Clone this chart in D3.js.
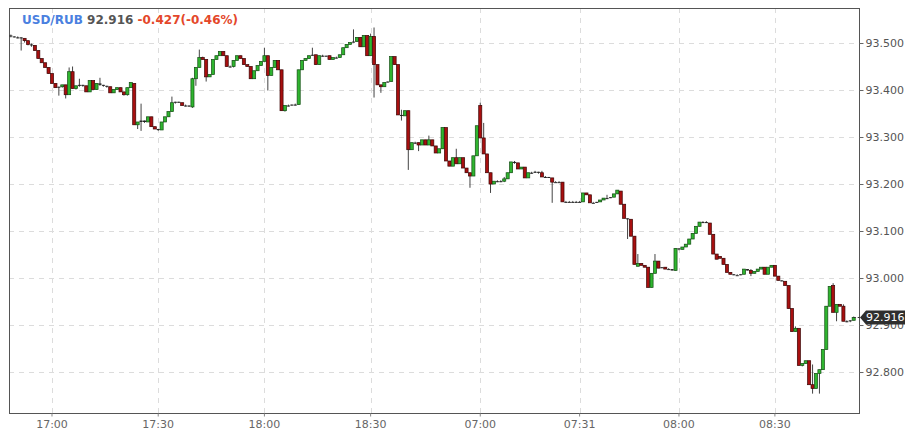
<!DOCTYPE html>
<html><head><meta charset="utf-8">
<script src="https://cdn.jsdelivr.net/npm/d3@7"></script>
<style>html,body{margin:0;padding:0;background:#fff;}svg{display:block;}</style>
</head><body><svg id="c" width="913" height="435"></svg>
<script>
// ---- data ----
const symbol = "USD/RUB";
const lastPrice = 92.916;
const change = "-0.427(-0.46%)";
const yTicks = [92.8, 92.9, 93.0, 93.1, 93.2, 93.3, 93.4, 93.5];
const timeLabels = ["17:00","17:30","18:00","18:30","07:00","07:31","08:00","08:30"];
const timeLabelIndex = [12, 43, 74, 105, 137, 166, 195, 223];
// [open, high, low, close] per one-minute candle
const candles = [
[93.516,93.518,93.512,93.514],[93.514,93.514,93.512,93.512],[93.512,93.514,93.510,93.512],[93.512,93.512,93.484,93.510],
[93.510,93.510,93.501,93.505],[93.505,93.505,93.495,93.497],[93.497,93.499,93.492,93.495],[93.495,93.495,93.484,93.484],
[93.484,93.484,93.467,93.467],[93.467,93.467,93.458,93.458],[93.458,93.458,93.448,93.448],[93.448,93.448,93.435,93.435],
[93.435,93.435,93.414,93.414],[93.414,93.414,93.405,93.405],[93.405,93.407,93.388,93.407],[93.407,93.411,93.405,93.411],
[93.411,93.411,93.382,93.390],[93.390,93.448,93.390,93.439],[93.439,93.450,93.403,93.403],[93.403,93.409,93.401,93.409],
[93.409,93.424,93.407,93.411],[93.411,93.411,93.407,93.409],[93.409,93.409,93.396,93.396],[93.396,93.420,93.396,93.420],
[93.420,93.420,93.401,93.401],[93.401,93.414,93.401,93.414],[93.414,93.426,93.409,93.411],[93.411,93.411,93.407,93.409],
[93.409,93.409,93.405,93.407],[93.407,93.407,93.394,93.394],[93.394,93.401,93.394,93.401],[93.401,93.405,93.401,93.405],
[93.405,93.405,93.396,93.396],[93.396,93.396,93.388,93.390],[93.390,93.405,93.388,93.405],[93.405,93.416,93.405,93.416],
[93.414,93.414,93.326,93.326],[93.326,93.332,93.317,93.332],[93.332,93.371,93.313,93.335],[93.335,93.335,93.330,93.332],
[93.332,93.343,93.332,93.343],[93.343,93.343,93.322,93.322],[93.322,93.322,93.317,93.317],[93.317,93.317,93.313,93.315],
[93.315,93.332,93.315,93.332],[93.332,93.343,93.332,93.343],[93.343,93.354,93.343,93.354],[93.354,93.386,93.354,93.373],
[93.373,93.375,93.371,93.375],[93.375,93.375,93.373,93.373],[93.373,93.373,93.367,93.367],[93.367,93.369,93.365,93.367],
[93.367,93.367,93.364,93.367],[93.364,93.426,93.362,93.424],[93.424,93.448,93.409,93.448],[93.448,93.486,93.448,93.469],
[93.469,93.471,93.465,93.465],[93.465,93.465,93.418,93.428],[93.428,93.433,93.428,93.433],[93.433,93.465,93.433,93.465],
[93.465,93.473,93.465,93.473],[93.473,93.482,93.473,93.482],[93.482,93.482,93.473,93.473],[93.473,93.473,93.450,93.450],
[93.450,93.452,93.448,93.450],[93.450,93.463,93.448,93.463],[93.463,93.473,93.463,93.473],[93.473,93.473,93.467,93.467],
[93.467,93.467,93.454,93.454],[93.454,93.454,93.450,93.450],[93.450,93.450,93.424,93.424],[93.424,93.441,93.424,93.441],
[93.441,93.452,93.441,93.452],[93.452,93.461,93.452,93.461],[93.461,93.490,93.461,93.473],[93.473,93.473,93.399,93.431],
[93.431,93.448,93.431,93.448],[93.448,93.463,93.448,93.463],[93.463,93.463,93.443,93.443],[93.443,93.443,93.356,93.356],
[93.356,93.367,93.354,93.367],[93.367,93.369,93.365,93.367],[93.367,93.369,93.367,93.369],[93.369,93.371,93.367,93.369],
[93.369,93.443,93.369,93.443],[93.443,93.463,93.443,93.463],[93.463,93.467,93.463,93.467],[93.467,93.473,93.467,93.473],
[93.473,93.490,93.473,93.475],[93.475,93.475,93.454,93.454],[93.454,93.473,93.454,93.473],[93.473,93.475,93.471,93.473],
[93.473,93.473,93.471,93.473],[93.473,93.473,93.465,93.465],[93.465,93.469,93.465,93.469],[93.469,93.471,93.467,93.469],
[93.469,93.475,93.469,93.475],[93.475,93.490,93.475,93.490],[93.490,93.497,93.490,93.497],[93.497,93.501,93.497,93.501],
[93.501,93.529,93.501,93.503],[93.503,93.512,93.503,93.512],[93.512,93.512,93.492,93.492],[93.492,93.516,93.492,93.516],
[93.516,93.516,93.473,93.473],[93.473,93.520,93.473,93.514],[93.514,93.533,93.384,93.454],[93.454,93.454,93.411,93.411],
[93.411,93.411,93.394,93.407],[93.407,93.416,93.407,93.416],[93.416,93.418,93.416,93.418],[93.418,93.471,93.418,93.471],
[93.471,93.471,93.454,93.454],[93.454,93.454,93.347,93.347],[93.347,93.358,93.335,93.345],[93.345,93.356,93.345,93.356],
[93.356,93.356,93.230,93.273],[93.273,93.288,93.273,93.288],[93.288,93.290,93.285,93.288],[93.288,93.288,93.270,93.283],
[93.283,93.294,93.283,93.294],[93.294,93.294,93.283,93.283],[93.283,93.303,93.283,93.294],[93.294,93.294,93.281,93.281],
[93.281,93.281,93.266,93.266],[93.266,93.275,93.266,93.275],[93.275,93.320,93.275,93.320],[93.320,93.320,93.249,93.249],
[93.249,93.249,93.238,93.238],[93.238,93.256,93.238,93.256],[93.256,93.275,93.243,93.243],[93.243,93.256,93.243,93.256],
[93.256,93.256,93.234,93.234],[93.234,93.234,93.224,93.224],[93.224,93.224,93.192,93.217],[93.217,93.260,93.217,93.260],
[93.260,93.324,93.260,93.324],[93.367,93.373,93.298,93.298],[93.298,93.330,93.264,93.264],[93.264,93.264,93.224,93.224],
[93.224,93.224,93.181,93.200],[93.200,93.206,93.200,93.206],[93.206,93.208,93.204,93.206],[93.206,93.208,93.204,93.206],
[93.206,93.215,93.204,93.211],[93.211,93.224,93.211,93.224],[93.224,93.247,93.224,93.247],[93.247,93.249,93.243,93.245],
[93.245,93.245,93.232,93.232],[93.232,93.236,93.232,93.236],[93.236,93.236,93.213,93.213],[93.213,93.224,93.213,93.224],
[93.224,93.226,93.222,93.224],[93.224,93.228,93.224,93.226],[93.226,93.226,93.222,93.224],[93.224,93.228,93.215,93.215],
[93.215,93.217,93.213,93.215],[93.215,93.215,93.213,93.213],[93.213,93.213,93.160,93.204],[93.204,93.206,93.204,93.204],
[93.204,93.206,93.204,93.204],[93.204,93.204,93.162,93.162],[93.162,93.164,93.162,93.162],[93.162,93.164,93.162,93.162],
[93.162,93.164,93.162,93.162],[93.162,93.164,93.162,93.162],[93.162,93.164,93.162,93.162],[93.162,93.181,93.162,93.181],
[93.181,93.181,93.177,93.177],[93.177,93.177,93.160,93.160],[93.160,93.162,93.160,93.160],[93.160,93.162,93.160,93.162],
[93.162,93.166,93.162,93.166],[93.166,93.170,93.166,93.170],[93.170,93.177,93.168,93.170],[93.170,93.172,93.170,93.172],
[93.172,93.179,93.172,93.179],[93.179,93.187,93.179,93.187],[93.185,93.185,93.157,93.157],[93.157,93.157,93.127,93.127],
[93.127,93.127,93.083,93.125],[93.125,93.125,93.089,93.089],[93.089,93.089,93.029,93.029],[93.025,93.051,93.025,93.031],
[93.031,93.031,93.027,93.027],[93.027,93.027,93.023,93.023],[93.023,93.023,92.980,92.980],[92.980,93.010,92.980,93.010],
[93.010,93.051,93.010,93.036],[93.036,93.036,93.021,93.021],[93.021,93.023,93.021,93.023],[93.023,93.023,93.019,93.019],
[93.019,93.021,93.019,93.019],[93.019,93.019,93.016,93.016],[93.016,93.063,93.016,93.063],[93.063,93.063,93.059,93.061],
[93.061,93.066,93.061,93.066],[93.066,93.072,93.066,93.072],[93.072,93.083,93.072,93.083],[93.083,93.095,93.083,93.095],
[93.095,93.110,93.095,93.110],[93.110,93.119,93.110,93.119],[93.119,93.121,93.117,93.119],[93.119,93.121,93.117,93.117],
[93.117,93.117,93.093,93.093],[93.093,93.093,93.051,93.051],[93.051,93.051,93.040,93.040],[93.046,93.046,93.042,93.042],
[93.042,93.042,93.029,93.029],[93.029,93.029,93.012,93.012],[93.012,93.012,93.008,93.008],[93.008,93.008,93.006,93.006],
[93.006,93.008,93.006,93.006],[93.006,93.008,93.006,93.008],[93.008,93.019,93.008,93.019],[93.019,93.019,93.016,93.016],
[93.016,93.019,93.004,93.010],[93.010,93.014,93.010,93.014],[93.014,93.019,93.014,93.019],[93.019,93.023,93.019,93.023],
[93.023,93.023,93.008,93.008],[93.008,93.023,93.008,93.023],[93.023,93.027,93.023,93.027],[93.027,93.027,93.004,93.004],
[93.004,93.004,92.995,92.995],[92.995,92.995,92.993,92.993],[92.993,92.993,92.984,92.984],[92.984,92.984,92.935,92.935],
[92.935,92.935,92.886,92.886],[92.886,92.897,92.886,92.893],[92.893,92.893,92.814,92.814],[92.814,92.818,92.812,92.818],
[92.818,92.824,92.818,92.824],[92.824,92.824,92.773,92.773],[92.773,92.816,92.754,92.765],[92.765,92.797,92.765,92.797],
[92.797,92.805,92.754,92.805],[92.805,92.848,92.805,92.848],[92.848,92.940,92.848,92.940],[92.940,92.982,92.940,92.982],
[92.984,92.989,92.927,92.927],[92.927,92.944,92.908,92.944],[92.944,92.944,92.940,92.940],[92.940,92.944,92.908,92.908],
[92.908,92.910,92.906,92.908],[92.908,92.910,92.906,92.910],[92.910,92.918,92.910,92.916]
];

// ---- layout ----
const L = 9, R = 859, T = 8, B = 413;
const svg = d3.select("#c");
const slots = d3.range(248);
const x = d3.scaleBand().domain(slots).range([L, R]).padding(0.1);
const y = d3.scaleLinear().domain([92.7128, 93.5745]).range([B, T]);
const cx = i => x(i) + x.bandwidth() / 2;

// grid
const grid = svg.append("g");
grid.selectAll("line.h").data(yTicks).join("line")
  .attr("x1", L).attr("x2", R).attr("y1", d => Math.round(y(d)) + 0.5).attr("y2", d => Math.round(y(d)) + 0.5)
  .attr("stroke", "#dcdcdc").attr("stroke-dasharray", "5,5");
grid.selectAll("line.v").data(timeLabelIndex).join("line")
  .attr("x1", d => Math.round(cx(d)) + 0.5).attr("x2", d => Math.round(cx(d)) + 0.5).attr("y1", T).attr("y2", B)
  .attr("stroke", "#dcdcdc").attr("stroke-dasharray", "5,5");

// frame
svg.append("rect").attr("x", L + 0.5).attr("y", T + 0.5).attr("width", R - L).attr("height", B - T)
  .attr("fill", "none").attr("stroke", "#555");

// axes
const yAxis = d3.axisRight(y).tickValues(yTicks).tickFormat(d3.format(".3f")).tickSize(4).tickPadding(2);
const ya = svg.append("g").attr("transform", `translate(${R + 0.5},0)`).call(yAxis);
ya.select(".domain").remove();
ya.selectAll("line").attr("stroke", "#666");
ya.selectAll("text").attr("fill", "#555").style("font", "11px 'DejaVu Sans'");

const xAxis = d3.axisBottom(x).tickValues(timeLabelIndex)
  .tickFormat((d, i) => timeLabels[i]).tickSize(3).tickPadding(4);
const xa = svg.append("g").attr("transform", `translate(0,${B + 0.5})`).call(xAxis);
xa.select(".domain").remove();
xa.selectAll("line").attr("stroke", "#888");
xa.selectAll("text").attr("fill", "#666").style("font", "11px 'DejaVu Sans'");

// candles
const cg = svg.append("g");
const up = d => d[3] >= d[0];
cg.selectAll("line.w").data(candles).join("line")
  .attr("x1", (d, i) => cx(i)).attr("x2", (d, i) => cx(i))
  .attr("y1", d => y(d[1])).attr("y2", d => y(d[2]))
  .attr("stroke", "#444").attr("stroke-width", 1);
cg.selectAll("rect").data(candles).join("rect")
  .attr("x", (d, i) => x(i))
  .attr("width", x.bandwidth())
  .attr("y", d => y(Math.max(d[0], d[3])))
  .attr("height", d => Math.max(1, Math.abs(y(d[0]) - y(d[3]))))
  .attr("fill", d => Math.abs(y(d[0]) - y(d[3])) < 1.5 ? "#222" : (up(d) ? "#2fb52f" : "#a80f0f"))
  .attr("stroke", d => Math.abs(y(d[0]) - y(d[3])) < 1.5 ? "none" : (up(d) ? "#134d13" : "#3a0505"))
  .attr("stroke-width", 0.7);

// last price line + label
const ly = y(lastPrice);
svg.append("line").attr("x1", cx(candles.length - 1)).attr("x2", R + 2).attr("y1", ly).attr("y2", ly)
  .attr("stroke", "#333").attr("stroke-dasharray", "2,2");
svg.append("path")
  .attr("d", `M${R + 1},${ly} L${R + 7},${ly - 7} L${R + 46},${ly - 7} L${R + 46},${ly + 7} L${R + 7},${ly + 7} Z`)
  .attr("fill", "#2e2e2e");
svg.append("text").attr("x", R + 7).attr("y", ly).attr("dy", "0.35em")
  .attr("fill", "#fff").style("font", "11px 'DejaVu Sans'").text(d3.format(".3f")(lastPrice));

// title
const t = svg.append("text").attr("x", 22).attr("y", 24).style("font", "bold 12px 'DejaVu Sans'");
t.append("tspan").attr("fill", "#4a80e0").text(symbol);
t.append("tspan").attr("fill", "#555").text(" " + d3.format(".3f")(lastPrice));
t.append("tspan").attr("fill", "#e4472a").text(" " + change);
</script></body></html>
